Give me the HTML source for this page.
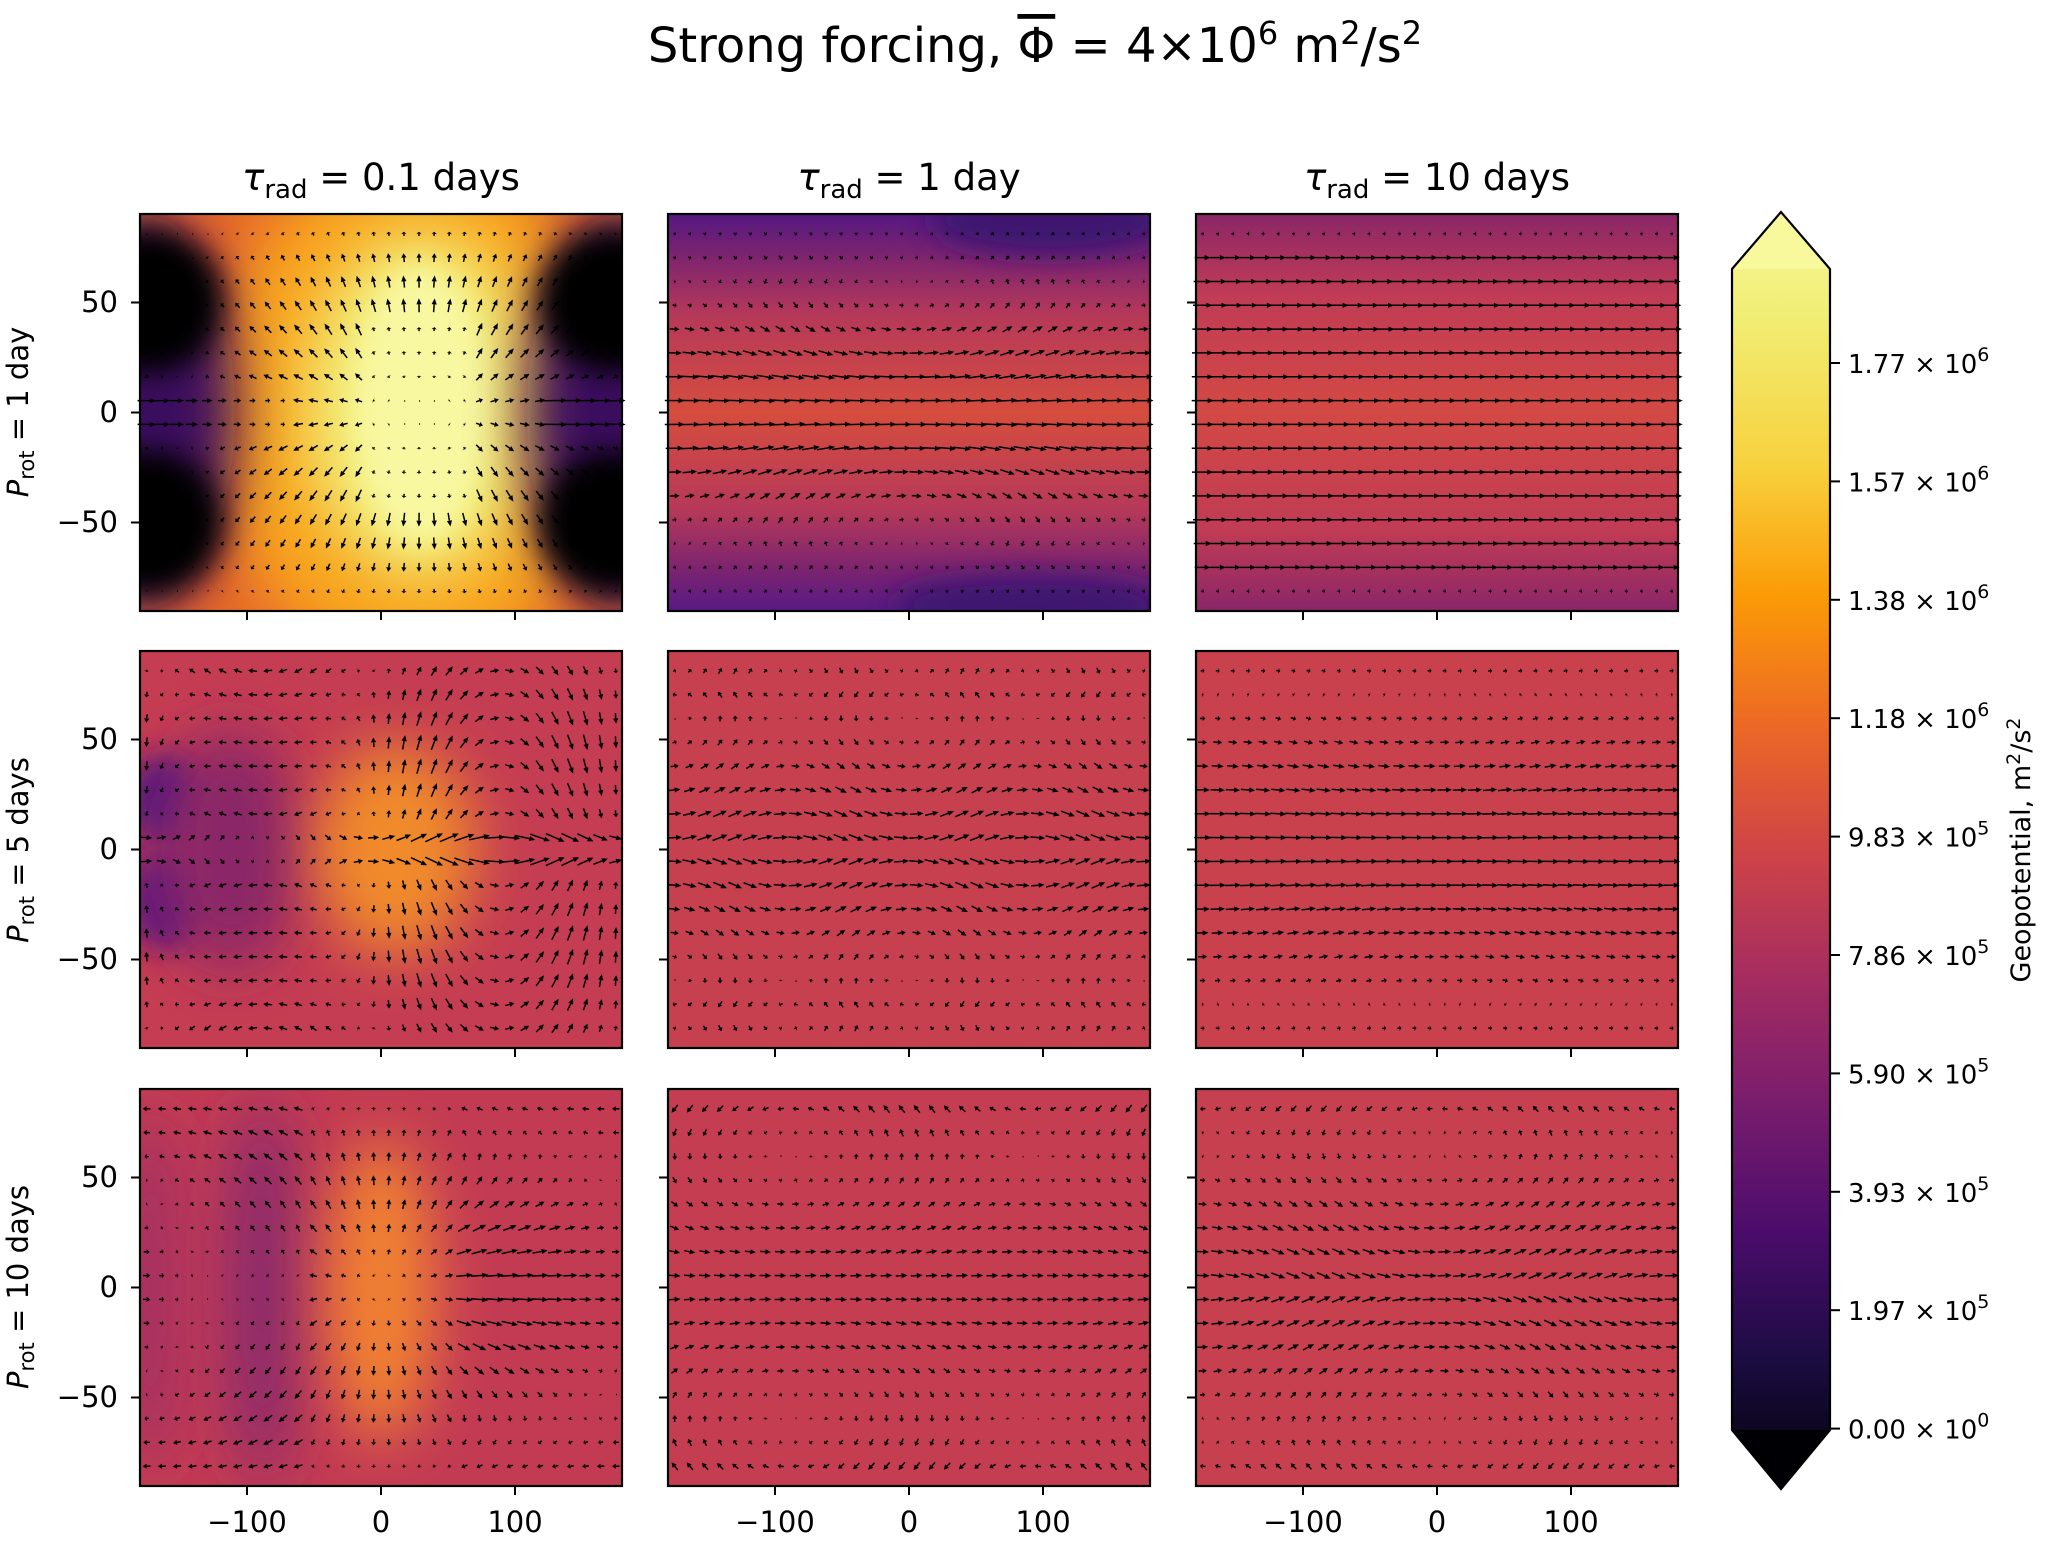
<!DOCTYPE html>
<html><head><meta charset="utf-8"><style>
html,body{margin:0;padding:0;background:#fff;}
svg{display:block;font-family:"DejaVu Sans","Liberation Sans",sans-serif;}
</style></head><body>
<svg id="s" width="2070" height="1548" viewBox="0 0 2070 1548" xmlns="http://www.w3.org/2000/svg">
<defs>
<filter id="b1" x="-50%" y="-50%" width="200%" height="200%"><feGaussianBlur stdDeviation="28"/></filter>
<filter id="b2" x="-50%" y="-50%" width="200%" height="200%"><feGaussianBlur stdDeviation="14"/></filter>
<linearGradient id="g12" x1="0" y1="0" x2="0" y2="1">
<stop offset="0" stop-color="#551882"/><stop offset="0.1" stop-color="#7a2370"/><stop offset="0.25" stop-color="#b4385a"/><stop offset="0.5" stop-color="#d64d3e"/><stop offset="0.75" stop-color="#b4385a"/><stop offset="0.9" stop-color="#7a2370"/><stop offset="1" stop-color="#581a84"/></linearGradient>
<linearGradient id="g13" x1="0" y1="0" x2="0" y2="1">
<stop offset="0" stop-color="#8a2668"/><stop offset="0.2" stop-color="#c03b55"/><stop offset="0.5" stop-color="#d34944"/><stop offset="0.8" stop-color="#c03b55"/><stop offset="1" stop-color="#8a2668"/></linearGradient>
<linearGradient id="gcb" x1="0" y1="1" x2="0" y2="0">
<stop offset="0" stop-color="#000004"/><stop offset="0.1" stop-color="#1b0c41"/><stop offset="0.2" stop-color="#4a0c6b"/><stop offset="0.3" stop-color="#781c6d"/><stop offset="0.4" stop-color="#a52c60"/><stop offset="0.5" stop-color="#cf4446"/><stop offset="0.6" stop-color="#ed6925"/><stop offset="0.7" stop-color="#fb9b06"/><stop offset="0.8" stop-color="#f7d13d"/><stop offset="0.92" stop-color="#f1ee75"/><stop offset="1" stop-color="#f8f89c"/></linearGradient>
<clipPath id="c11"><rect x="140" y="214" width="482" height="397"/></clipPath>
<clipPath id="c12"><rect x="668" y="214" width="482" height="397"/></clipPath>
<clipPath id="c21"><rect x="140" y="651" width="482" height="397"/></clipPath>
<clipPath id="c31"><rect x="140" y="1089" width="482" height="397"/></clipPath>
</defs>

<text x="1035" y="62" font-size="48" text-anchor="middle">Strong forcing, <tspan text-decoration="overline">Φ</tspan> = 4×10<tspan dy="-18" font-size="32">6</tspan><tspan dy="18"> m</tspan><tspan dy="-18" font-size="32">2</tspan><tspan dy="18">/s</tspan><tspan dy="-18" font-size="32">2</tspan></text>

<g font-size="37" text-anchor="middle">
<text x="381" y="190"><tspan font-style="italic">τ</tspan><tspan font-size="26" dy="8">rad</tspan><tspan dy="-8"> = 0.1 days</tspan></text>
<text x="909" y="190"><tspan font-style="italic">τ</tspan><tspan font-size="26" dy="8">rad</tspan><tspan dy="-8"> = 1 day</tspan></text>
<text x="1437" y="190"><tspan font-style="italic">τ</tspan><tspan font-size="26" dy="8">rad</tspan><tspan dy="-8"> = 10 days</tspan></text>
</g>

<!-- panel backgrounds -->
<g clip-path="url(#c11)">
<rect x="140" y="214" width="482" height="397" fill="#e86a2a"/>
<ellipse cx="415" cy="412" rx="200" ry="260" fill="#f8a41a" filter="url(#b1)"/>
<ellipse cx="421" cy="405" rx="120" ry="175" fill="#f3e870" filter="url(#b1)"/>
<ellipse cx="421" cy="405" rx="70" ry="140" fill="#f8f8a0" filter="url(#b2)"/>
<ellipse cx="140" cy="412" rx="95" ry="200" fill="#3a0c5e" filter="url(#b1)"/>
<ellipse cx="622" cy="412" rx="95" ry="200" fill="#3a0c5e" filter="url(#b1)"/>
<circle cx="150" cy="302" r="72" fill="#000004" filter="url(#b2)"/>
<circle cx="150" cy="522" r="72" fill="#000004" filter="url(#b2)"/>
<circle cx="612" cy="302" r="72" fill="#000004" filter="url(#b2)"/>
<circle cx="612" cy="522" r="72" fill="#000004" filter="url(#b2)"/>
</g>
<g clip-path="url(#c12)">
<rect x="668" y="214" width="482" height="397" fill="url(#g12)"/>
<ellipse cx="1050" cy="220" rx="120" ry="35" fill="#3e1270" filter="url(#b2)"/>
<ellipse cx="1030" cy="605" rx="140" ry="30" fill="#3e1270" filter="url(#b2)"/>
</g>
<rect x="1196" y="214" width="482" height="397" fill="url(#g13)"/>
<g clip-path="url(#c21)">
<rect x="140" y="651" width="482" height="397" fill="#c53d52"/>
<ellipse cx="165" cy="800" rx="40" ry="45" fill="#52187c" filter="url(#b2)"/>
<ellipse cx="165" cy="900" rx="40" ry="50" fill="#60197a" filter="url(#b2)"/>
<ellipse cx="230" cy="850" rx="70" ry="120" fill="#8a2868" filter="url(#b1)"/>
<ellipse cx="395" cy="850" rx="80" ry="105" fill="#f08a2a" filter="url(#b1)"/>
</g>
<rect x="668" y="651" width="482" height="397" fill="#c6404f"/>
<rect x="1196" y="651" width="482" height="397" fill="#c8414d"/>
<g clip-path="url(#c31)">
<rect x="140" y="1089" width="482" height="397" fill="#c33b53"/>
<ellipse cx="262" cy="1290" rx="40" ry="190" fill="#8c2a6c" filter="url(#b1)"/>
<ellipse cx="150" cy="1290" rx="30" ry="180" fill="#a02f64" filter="url(#b1)"/>
<ellipse cx="381" cy="1290" rx="55" ry="150" fill="#f08030" filter="url(#b1)"/>
</g>
<rect x="668" y="1089" width="482" height="397" fill="#c43d50"/>
<rect x="1196" y="1089" width="482" height="397" fill="#c6404f"/>

<g id="arrows" stroke="#000" stroke-width="1.5" fill="#000"></g>

<!-- frames -->
<g fill="none" stroke="#000" stroke-width="2.2">
<rect x="140" y="214" width="482" height="397"/><rect x="668" y="214" width="482" height="397"/><rect x="1196" y="214" width="482" height="397"/>
<rect x="140" y="651" width="482" height="397"/><rect x="668" y="651" width="482" height="397"/><rect x="1196" y="651" width="482" height="397"/>
<rect x="140" y="1089" width="482" height="397"/><rect x="668" y="1089" width="482" height="397"/><rect x="1196" y="1089" width="482" height="397"/>
</g>
<g id="ticks" stroke="#000" stroke-width="2"></g>

<g font-size="29" text-anchor="end">
<text x="118" y="312">50</text><text x="118" y="422">0</text><text x="118" y="532">−50</text>
<text x="118" y="749">50</text><text x="118" y="859">0</text><text x="118" y="969">−50</text>
<text x="118" y="1187">50</text><text x="118" y="1297">0</text><text x="118" y="1407">−50</text>
</g>
<g font-size="29" text-anchor="middle">
<text x="247" y="1532">−100</text><text x="381" y="1532">0</text><text x="515" y="1532">100</text>
<text x="775" y="1532">−100</text><text x="909" y="1532">0</text><text x="1043" y="1532">100</text>
<text x="1303" y="1532">−100</text><text x="1437" y="1532">0</text><text x="1571" y="1532">100</text>
</g>
<g font-size="29" text-anchor="middle">
<text transform="translate(28,412) rotate(-90)"><tspan font-style="italic">P</tspan><tspan font-size="21" dy="6">rot</tspan><tspan dy="-6"> = 1 day</tspan></text>
<text transform="translate(28,850) rotate(-90)"><tspan font-style="italic">P</tspan><tspan font-size="21" dy="6">rot</tspan><tspan dy="-6"> = 5 days</tspan></text>
<text transform="translate(28,1287) rotate(-90)"><tspan font-style="italic">P</tspan><tspan font-size="21" dy="6">rot</tspan><tspan dy="-6"> = 10 days</tspan></text>
</g>

<!-- colorbar -->
<path d="M1732,269 L1781,212 L1830,269 L1830,1430 L1781,1489 L1732,1430 Z" fill="url(#gcb)"/>
<path d="M1732,269 L1781,212 L1830,269 Z" fill="#f8f89c"/>
<path d="M1732,1430 L1781,1489 L1830,1430 Z" fill="#000004"/>
<path d="M1732,269 L1781,212 L1830,269 L1830,1430 L1781,1489 L1732,1430 Z" fill="none" stroke="#000" stroke-width="2.2"/>
<g id="cbt" stroke="#000" stroke-width="2"></g>
<g font-size="26" id="cbl"></g>
<text transform="translate(2030,850) rotate(-90)" font-size="27" text-anchor="middle">Geopotential, m<tspan dy="-10" font-size="19">2</tspan><tspan dy="10">/s</tspan><tspan dy="-10" font-size="19">2</tspan></text>
</svg>
<script>
(function(){
var NS="http://www.w3.org/2000/svg";
var L=[140,668,1196],T=[214,651,1089],W=482,H=397;
var tk=document.getElementById('ticks');
function ln(g,x1,y1,x2,y2){var e=document.createElementNS(NS,'line');e.setAttribute('x1',x1);e.setAttribute('y1',y1);e.setAttribute('x2',x2);e.setAttribute('y2',y2);g.appendChild(e);}
for(var c=0;c<3;c++)for(var r=0;r<3;r++){
 var l=L[c],t=T[r];
 [-110,0,110].forEach(function(d){ln(tk,l-9,t+198.5-d,l,t+198.5-d);});
 [-134,0,134].forEach(function(d){ln(tk,l+241+d,t+H,l+241+d,t+H+9);});
}
var cbt=document.getElementById('cbt'),cbl=document.getElementById('cbl');
var labs=["1.77","1.57","1.38","1.18","9.83","7.86","5.90","3.93","1.97","0.00"],ex=["6","6","6","6","5","5","5","5","5","0"];
for(var i=0;i<10;i++){var y=363+i*118.4;ln(cbt,1830,y,1840,y);
 var tx=document.createElementNS(NS,'text');tx.setAttribute('x',1848);tx.setAttribute('y',y+10);
 tx.innerHTML=labs[i]+' × 10<tspan dy="-12" font-size="19">'+ex[i]+'</tspan>';cbl.appendChild(tx);}
var g=document.getElementById('arrows');
var pd="",hd="";
function arrow(x,y,u,v){var m=Math.sqrt(u*u+v*v);if(m<1.2){pd+="M"+x.toFixed(1)+","+y.toFixed(1)+"h1";return;}
 var x2=x+u,y2=y-v;var ux=u/m,uy=-v/m;var hl=Math.min(6,m*0.5),hw=2.6;
 pd+="M"+(x).toFixed(1)+","+y.toFixed(1)+"L"+(x2-ux*hl).toFixed(1)+","+(y2-uy*hl).toFixed(1);
 hd+="M"+x2.toFixed(1)+","+y2.toFixed(1)+"L"+(x2-ux*hl-uy*hw).toFixed(1)+","+(y2-uy*hl+ux*hw).toFixed(1)+"L"+(x2-ux*hl+uy*hw).toFixed(1)+","+(y2-uy*hl-ux*hw).toFixed(1)+"Z";}
var D=Math.PI/180;
function wrap(a){while(a>180)a-=360;while(a<-180)a+=360;return a;}
var F=[
[function(lo,la){var dl=wrap(lo-30);var u=10*Math.sin(dl*D)*Math.cos(la*D),v=14*Math.sin(la*2*D)*Math.cos(dl*D*0.5);
  if(Math.abs(dl)>100&&Math.abs(la)<14){u+=14;v*=0.2;} if(Math.abs(dl)<40&&Math.abs(la)<40){u*=0.3;v*=0.3;} return [u,v];},
 function(lo,la){var u=20*Math.cos(la*1.6*D);var v=6*Math.sin(lo*D)*Math.sin(la*2*D);if(Math.abs(la)>70)u=3;return [u,v];},
 function(lo,la){return [Math.abs(la)>75?3:22*Math.pow(Math.cos(la*D),0.3),0];}],
[function(lo,la){var dl=wrap(lo);var u=9*Math.sin(dl*D)+ (Math.abs(la)<14?12:0),v=11*Math.sin(la*2*D)*Math.cos(dl*D)+7*Math.sin(dl*2*D)*Math.sign(la);return [u,v];},
 function(lo,la){var u=15*Math.cos(la*1.5*D);var v=6*Math.sin(lo*2*D)*Math.sign(la);if(Math.abs(la)>75)u=3;return [u,v];},
 function(lo,la){return [Math.abs(la)>75?4:17*Math.cos(la*1.2*D),2*Math.sin(lo*D)*Math.sin(la*2*D)];}],
[function(lo,la){var dl=wrap(lo);var u=10*Math.sin(dl*D)*Math.cos(la*D)+(Math.abs(dl)>60?8*Math.cos(la*2*D):0),v=10*Math.sin(la*2*D)*Math.cos(dl*D*0.5);return [u,v];},
 function(lo,la){var u=12*Math.cos(la*1.5*D);var v=8*Math.cos(lo*D)*Math.sign(la)*Math.sin(Math.abs(la)*D);return [u,v];},
 function(lo,la){var u=14*Math.cos(la*1.4*D);var v=6*Math.sin(lo*D)*Math.sign(la);return [u,v];}]];
for(var r=0;r<3;r++)for(var c=0;c<3;c++){
 for(var j=0;j<16;j++){var la=81-j*10.8;var y=T[r]+198.5-la*2.206;
  for(var i=0;i<32;i++){var lo=-175+i*11.3;var x=L[c]+241+lo*1.339;var uv=F[r][c](lo,la);arrow(x-uv[0]/2,y+uv[1]/2,uv[0],uv[1]);}}}
var p=document.createElementNS(NS,'path');p.setAttribute('d',pd);p.setAttribute('fill','none');g.appendChild(p);
var h=document.createElementNS(NS,'path');h.setAttribute('d',hd);h.setAttribute('stroke','none');g.appendChild(h);
})();
</script>
</body></html>
